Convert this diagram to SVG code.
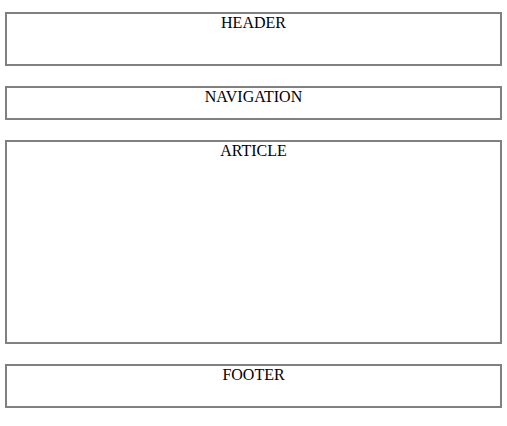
<svg xmlns="http://www.w3.org/2000/svg" width="507" height="426" viewBox="0 0 507 426">
<style>
rect.box{fill:#fff;stroke:#808080;stroke-width:2}
text{font-family:"Liberation Serif","Times New Roman",serif;font-size:16px;fill:#000;text-anchor:middle}
</style>
<rect width="507" height="426" fill="#fff"/>
<g id="header"><rect class="box" x="6" y="13" width="495" height="52"/><text x="253.5" y="28">HEADER</text></g>
<g id="navigation"><rect class="box" x="6" y="87" width="495" height="32"/><text x="253.5" y="102">NAVIGATION</text></g>
<g id="article"><rect class="box" x="6" y="141" width="495" height="202"/><text x="253.5" y="156">ARTICLE</text></g>
<g id="footer"><rect class="box" x="6" y="365" width="495" height="42"/><text x="253.5" y="380">FOOTER</text></g>
<g id="connectors"/>
</svg>
